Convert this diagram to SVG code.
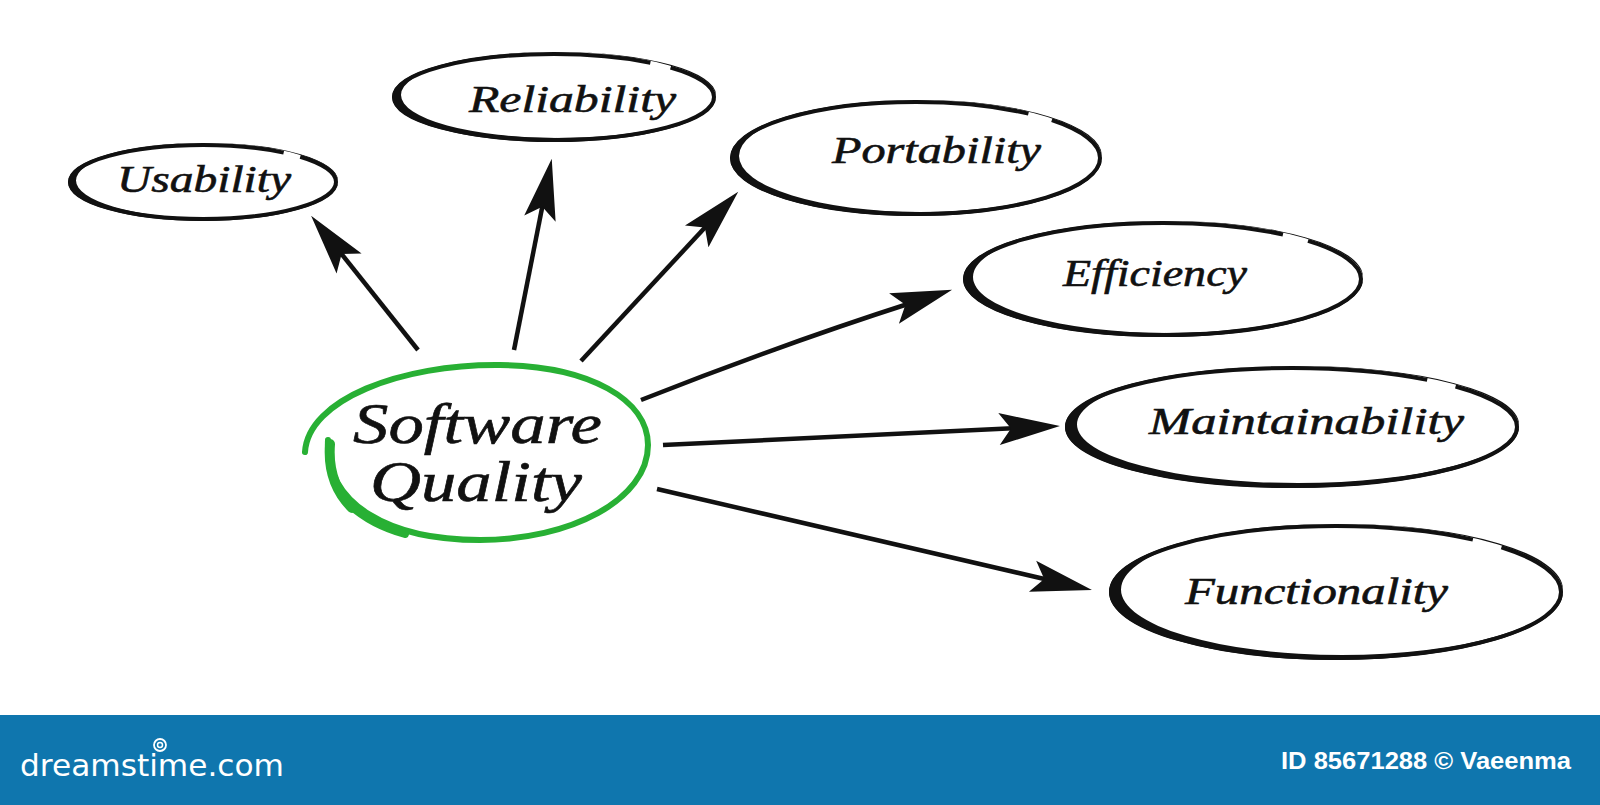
<svg xmlns="http://www.w3.org/2000/svg" width="1600" height="805" viewBox="0 0 1600 805">
<style>
.lbl{font-family:"Liberation Serif","DejaVu Serif",serif;font-style:italic;fill:#111;stroke:#111;stroke-width:0.6;}
.ring{fill:none;stroke:#111;stroke-width:4;}
.brush{fill:#111;fill-rule:evenodd;}
.conn{fill:none;stroke:#111;stroke-width:4.5;marker-end:url(#head);}
.green{fill:none;stroke:#28b034;stroke-linecap:round;}
</style>
<defs>
<marker id="head" markerUnits="userSpaceOnUse" viewBox="-30 -20 80 40" markerWidth="80" markerHeight="40" refX="0" refY="0" orient="auto">
<path d="M40,0 L-21,-16 L-9,0 L-21,16 Z" fill="#111"/>
</marker>
</defs>
<rect width="1600" height="805" fill="#ffffff"/>

<g id="connectors">
<path class="conn" d="M418,350 L336,247"/>
<path class="conn" d="M514,350 L544,198"/>
<path class="conn" d="M581,361 L711,221"/>
<path class="conn" d="M641,400 Q780,345 914,302"/>
<path class="conn" d="M663,445 L1020,428"/>
<path class="conn" d="M657,489 L1053,581"/>
</g>

<g id="node-software-quality">
<path class="green" stroke-width="6" d="M305,452 C308,400 400,364 500,365 C590,366 648,400 648,445 C648,500 570,540 480,540 C390,540 325,505 328,440"/>
<path class="green" stroke-width="10" d="M330,444 C328,470 336,492 352,508"/>
<path class="green" stroke-width="8" d="M345,500 C360,516 380,527 405,534"/>
<text class="lbl" x="353" y="443" font-size="56" textLength="249" lengthAdjust="spacingAndGlyphs">Software</text>
<text class="lbl" x="370" y="501" font-size="56" textLength="212" lengthAdjust="spacingAndGlyphs">Quality</text>
</g>

<g id="node-usability">
<ellipse class="ring" cx="203" cy="182" rx="133" ry="37" pathLength="100" stroke-dasharray="89 3 8 0"/>
<path class="brush" d="M68,182 a135,39 0 1,0 270,0 a135,39 0 1,0 -270,0 Z M76,180.5 a131,37.5 0 1,0 262,0 a131,37.5 0 1,0 -262,0 Z"/>
<text class="lbl" x="117" y="192" font-size="38" textLength="174" lengthAdjust="spacingAndGlyphs">Usability</text>
</g>

<g id="node-reliability">
<ellipse class="ring" cx="554" cy="97" rx="160" ry="43" pathLength="100" stroke-dasharray="89 3 8 0"/>
<path class="brush" d="M392,97 a162,45 0 1,0 324,0 a162,45 0 1,0 -324,0 Z M401,95 a157.5,43 0 1,0 315,0 a157.5,43 0 1,0 -315,0 Z"/>
<text class="lbl" x="469" y="112" font-size="38" textLength="207" lengthAdjust="spacingAndGlyphs">Reliability</text>
</g>

<g id="node-portability">
<ellipse class="ring" cx="916" cy="158" rx="184" ry="56" pathLength="100" stroke-dasharray="89 3 8 0"/>
<path class="brush" d="M730,158 a186,58 0 1,0 372,0 a186,58 0 1,0 -372,0 Z M739,156 a181.5,56 0 1,0 363,0 a181.5,56 0 1,0 -363,0 Z"/>
<text class="lbl" x="832" y="163" font-size="38" textLength="209" lengthAdjust="spacingAndGlyphs">Portability</text>
</g>

<g id="node-efficiency">
<ellipse class="ring" cx="1163" cy="279" rx="198" ry="56" pathLength="100" stroke-dasharray="89 3 8 0"/>
<path class="brush" d="M963,279 a200,58 0 1,0 400,0 a200,58 0 1,0 -400,0 Z M973,277 a195,56 0 1,0 390,0 a195,56 0 1,0 -390,0 Z"/>
<text class="lbl" x="1063" y="286" font-size="38" textLength="184" lengthAdjust="spacingAndGlyphs">Efficiency</text>
</g>

<g id="node-maintainability">
<ellipse class="ring" cx="1292" cy="427" rx="225" ry="59" pathLength="100" stroke-dasharray="89 3 8 0"/>
<path class="brush" d="M1065,427 a227,61 0 1,0 454,0 a227,61 0 1,0 -454,0 Z M1077,424.5 a221,58.5 0 1,0 442,0 a221,58.5 0 1,0 -442,0 Z"/>
<text class="lbl" x="1149" y="434" font-size="38" textLength="315" lengthAdjust="spacingAndGlyphs">Maintainability</text>
</g>

<g id="node-functionality">
<ellipse class="ring" cx="1336" cy="592" rx="225" ry="66" pathLength="100" stroke-dasharray="89 3 8 0"/>
<path class="brush" d="M1109,592 a227,68 0 1,0 454,0 a227,68 0 1,0 -454,0 Z M1121,589.5 a221,65.5 0 1,0 442,0 a221,65.5 0 1,0 -442,0 Z"/>
<text class="lbl" x="1185" y="604" font-size="38" textLength="263" lengthAdjust="spacingAndGlyphs">Functionality</text>
</g>

<g id="banner">
<rect x="0" y="715" width="1600" height="90" fill="#0f76ae"/>
<circle cx="160" cy="745" r="6" fill="none" stroke="#ffffff" stroke-width="1.8"/>
<circle cx="160" cy="745" r="2.5" fill="none" stroke="#ffffff" stroke-width="1.5"/>
<text x="20" y="776" font-family="DejaVu Sans, sans-serif" font-size="30" fill="#ffffff" textLength="264" lengthAdjust="spacingAndGlyphs">dreamstime.com</text>
<text x="1281" y="769" font-family="Liberation Sans Narrow, Liberation Sans, sans-serif" font-size="24" font-weight="bold" fill="#ffffff" textLength="290" lengthAdjust="spacingAndGlyphs">ID 85671288 © Vaeenma</text>
</g>
</svg>
